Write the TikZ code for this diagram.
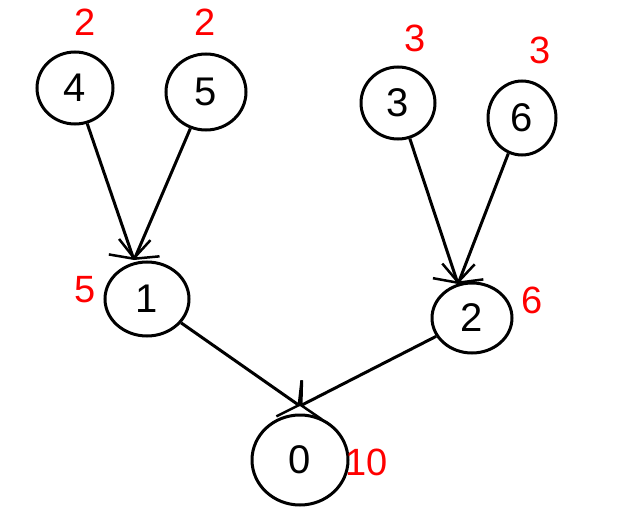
\documentclass[tikz,border=0pt]{standalone}
\usepackage{fontspec}
\setmainfont{Liberation Sans}
\usetikzlibrary{shapes.geometric,arrows.meta}
\begin{document}
\begin{tikzpicture}[x=1pt,y=-1pt,
  nd/.style={draw,line width=3pt,ellipse,inner sep=0pt,font=\fontsize{40}{40}\selectfont},
  ed/.style={line width=3pt,-{Straight Barb[length=12pt,width=44pt,line width=2.5pt]}},
  lb/.style={text=red,font=\fontsize{38}{38}\selectfont}]
\useasboundingbox (0,0) rectangle (640,524);
\node[nd,minimum width=76pt,minimum height=72pt] (n4) at (75,88) {4};
\node[nd,minimum width=80pt,minimum height=76pt] (n5) at (206,92) {5};
\node[nd,minimum width=74pt,minimum height=72pt] (n3) at (398,103) {3};
\node[nd,minimum width=68pt,minimum height=74pt] (n6) at (522,118) {6};
\node[nd,minimum width=84pt,minimum height=74pt] (n1) at (147,299) {1};
\node[nd,minimum width=80pt,minimum height=70pt] (n2) at (472,318) {2};
\node[nd,minimum width=96pt,minimum height=90pt] (n0) at (300,460) {0};
\coordinate (t1) at (134,260);
\coordinate (t2) at (458,284);
\coordinate (t0) at (300,406);
\draw[ed] (n4) -- (t1);
\draw[ed] (n5) -- (t1);
\draw[ed] (n3) -- (t2);
\draw[ed] (n6) -- (t2);
\draw[ed] (n1) -- (t0);
\draw[ed] (n2) -- (t0);
\node[lb] (l4) at (85,22) {2};
\node[lb] (l5) at (205,22) {2};
\node[lb] (l3) at (415,38) {3};
\node[lb] (l6) at (540,50) {3};
\node[lb] (l1) at (85,290) {5};
\node[lb] (l2) at (532,300) {6};
\node[lb] (l0) at (367,462) {10};
\end{tikzpicture}
\end{document}
